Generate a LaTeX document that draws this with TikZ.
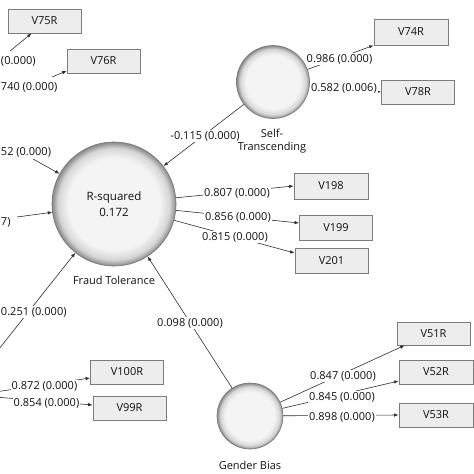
\documentclass[tikz,border=0pt]{standalone}
\usepackage{fontspec}
\setmainfont{Open Sans}
\usetikzlibrary{arrows.meta}
\definecolor{cin}{HTML}{F4F4F4}
\definecolor{cmid}{HTML}{D6D6D6}
\definecolor{cout}{HTML}{888888}
\definecolor{rimc}{HTML}{777777}
\definecolor{boxfill}{HTML}{EDEDED}
\definecolor{boxline}{HTML}{7C7C7C}
\definecolor{linec}{HTML}{2E2E2E}
\definecolor{txt}{HTML}{111111}
\pgfdeclareradialshading{rimball}{\pgfpoint{0bp}{0bp}}{color(0bp)=(cin); color(18.5bp)=(cin); color(22.5bp)=(cmid); color(25bp)=(cout); color(50bp)=(cout)}
\tikzset{
  fnt/.style={font=\fontsize{11}{13}\selectfont, text=txt},
  vbox/.style={fnt, draw=boxline, fill=boxfill, line width=0.8pt, minimum width=73pt, minimum height=24pt, inner sep=0pt},
  lv/.style={circle, draw=rimc, line width=0.6pt, shading=rimball, inner sep=0pt},
  lab/.style={fnt, fill=white, inner sep=0.8pt},
  captxt/.style={fnt, inner sep=0pt, align=center},
  con/.style={draw=linec, line width=0.6pt, -{Latex[length=4.5pt,width=3.5pt]}}
}
\begin{document}
\begin{tikzpicture}[x=1pt,y=-1pt]
\useasboundingbox (0,0) rectangle (474,474);
% boxes
\node[vbox] (v75r) at (44.5,21) {V75R};
\node[vbox] (v76r) at (103.5,61) {V76R};
\node[vbox, minimum height=26pt, minimum width=74pt] (v74r) at (411,32) {V74R};
\node[vbox] (v78r) at (418,92) {V78R};
\node[vbox, minimum height=26pt, minimum width=74pt] (v198) at (331,186) {V198};
\node[vbox, minimum height=25pt] (v199) at (336,227.5) {V199};
\node[vbox, minimum height=25pt] (v201) at (331.5,260.5) {V201};
\node[vbox] (v100r) at (127,372) {V100R};
\node[vbox] (v99r) at (129.5,408) {V99R};
\node[vbox, minimum height=23pt] (v51r) at (433.5,333.5) {V51R};
\node[vbox, minimum width=74pt] (v52r) at (436,372) {V52R};
\node[vbox, minimum width=74pt] (v53r) at (436,415) {V53R};
% latent variables
\node[lv, minimum size=124pt, align=center, font=\fontsize{11.5}{16}\selectfont, text=txt] (ft) at (114,204) {R-squared\\0.172};
\node[lv, minimum size=73pt] (st) at (273,82) {};
\node[lv, minimum size=66pt] (gb) at (250,416) {};
\node[captxt] (ftl) at (114,280) {Fraud Tolerance};
\node[captxt] (stl) at (272,141) {Self-\\Transcending};
\node[captxt] (gbl) at (250,465) {Gender Bias};
% free ends
\coordinate (c1) at (33,159);
\coordinate (c2) at (17,217);
\coordinate (c3) at (-5,354);
\coordinate (c4) at (10,51);
\coordinate (c5) at (52,77);
\coordinate (c6) at (-5,392);
\coordinate (c7) at (-5,397);
% connectors
\draw[con] (c1) -- (ft);
\draw[con] (c2) -- (ft);
\draw[con] (c3) -- (ft);
\draw[con] (st) -- (ft);
\draw[con] (gb) -- (ft);
\draw[con] (c4) -- ([xshift=24pt]v75r.south west);
\draw[con] (c5) -- ([yshift=-10pt]v76r.west);
\draw[con] (c6) -- ([yshift=-6pt]v100r.west);
\draw[con] (c7) -- ([yshift=3pt]v99r.west);
\draw[con] (st) -- (v74r.south west);
\draw[con] (st) -- (v78r.west);
\draw[con] (ft) -- (v198.west);
\draw[con] (ft) -- ([yshift=4.5pt]v199.west);
\draw[con] (ft) -- ([yshift=7.5pt]v201.west);
\draw[con] (gb) -- ([xshift=8pt]v51r.south west);
\draw[con] (gb) -- ([yshift=-9pt]v52r.west);
\draw[con] (gb) -- (v53r.west);
% labels
\node[lab, anchor=west] (l1) at (0,61) {(0.000)};
\node[lab, anchor=west] (l2) at (0,87) {740 (0.000)};
\node[lab, anchor=west] (l3) at (0,152) {52 (0.000)};
\node[lab, anchor=west] (l4) at (0,222) {7)};
\node[lab, anchor=west] (l5) at (0,312) {0.251 (0.000)};
\node[lab] (l6) at (44.5,386) {0.872 (0.000)};
\node[lab] (l7) at (46.5,403) {0.854 (0.000)};
\node[lab] (l8) at (205,136) {-0.115 (0.000)};
\node[lab] (l9) at (339.5,59) {0.986 (0.000)};
\node[lab] (l10) at (344,88) {0.582 (0.006)};
\node[lab] (l11) at (237,193) {0.807 (0.000)};
\node[lab] (l12) at (238,217) {0.856 (0.000)};
\node[lab] (l13) at (235,237) {0.815 (0.000)};
\node[lab] (l14) at (190,323) {0.098 (0.000)};
\node[lab] (l15) at (343,376) {0.847 (0.000)};
\node[lab] (l16) at (342,397) {0.845 (0.000)};
\node[lab] (l17) at (342,417) {0.898 (0.000)};
\end{tikzpicture}
\end{document}
